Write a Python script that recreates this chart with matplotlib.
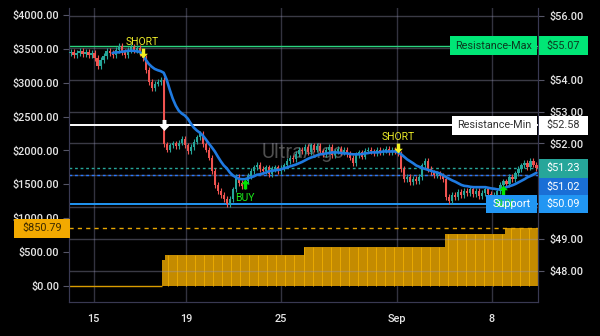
import numpy as np
import matplotlib
matplotlib.use("Agg")
import matplotlib.pyplot as plt
import matplotlib.transforms as mtransforms
from matplotlib.patches import Rectangle
from matplotlib.path import Path

plt.rcParams['font.family'] = ['Roboto', 'DejaVu Sans']

# ---------------- data ----------------
closes = [
    54.88, 54.78, 54.84, 54.91, 54.81, 54.88, 54.78, 54.84, 54.69, 54.44,
    54.63, 54.75, 54.91, 54.84, 54.78, 54.94, 55.06, 54.88, 54.78, 54.94,
    55.03, 54.94, 55.00, 54.84, 54.69, 54.31, 53.94, 53.75, 53.88, 53.94,
    54.00, 51.97, 51.81, 51.94, 52.00, 51.91, 52.03, 52.13, 51.94, 51.75,
    51.88, 52.06, 52.19, 52.31, 51.97, 51.81, 51.56, 51.13, 50.69, 50.50,
    50.38, 50.25, 50.09, 50.25, 50.56, 50.94, 50.75, 50.66, 50.81, 50.97,
    51.13, 51.25, 51.34, 51.19, 51.13, 51.25, 51.03, 51.19, 51.25, 51.13,
    51.22, 51.31, 51.44, 51.56, 51.50, 51.66, 51.81, 51.75, 51.88, 51.72,
    51.94, 51.81, 51.91, 51.75, 51.66, 51.81, 51.88, 51.63, 51.75, 51.84,
    51.72, 51.81, 51.66, 51.56, 51.38, 51.63, 51.72, 51.59, 51.78, 51.81,
    51.75, 51.69, 51.81, 51.72, 51.78, 51.84, 51.72, 51.81, 51.75, 51.69,
    51.19, 50.88, 50.94, 50.78, 50.88, 50.81, 50.94, 51.31, 51.44, 51.19,
    51.09, 51.00, 51.06, 50.97, 50.88, 50.31, 50.19, 50.38, 50.31, 50.47,
    50.38, 50.50, 50.44, 50.56, 50.41, 50.50, 50.34, 50.44, 50.56, 50.41,
    50.25, 50.38, 50.50, 50.69, 50.81, 50.72, 50.94, 50.88, 51.06, 51.19,
    51.31, 51.38, 51.25, 51.44, 51.34, 51.23,
]
first_open = 54.84
wick = 0.09

ma_start = 14
ma_values = [
    54.84, 54.86, 54.86, 54.88, 54.89, 54.91, 54.91, 54.91, 54.89, 54.88,
    54.78, 54.63, 54.50, 54.41, 54.34, 54.30, 54.27, 54.22, 54.00, 53.69,
    53.41, 53.19, 53.03, 52.94, 52.88, 52.78, 52.63, 52.50, 52.41, 52.34,
    52.25, 52.13, 52.00, 51.88, 51.75, 51.59, 51.44, 51.31, 51.22, 51.09,
    51.00, 50.94, 50.89, 50.88, 50.88, 50.91, 50.94, 50.97, 51.02, 51.03,
    51.06, 51.09, 51.13, 51.14, 51.16, 51.17, 51.19, 51.22, 51.25, 51.28,
    51.31, 51.34, 51.38, 51.42, 51.47, 51.52, 51.56, 51.59, 51.63, 51.66,
    51.67, 51.69, 51.70, 51.72, 51.72, 51.72, 51.70, 51.69, 51.69, 51.67,
    51.66, 51.66, 51.66, 51.67, 51.69, 51.70, 51.72, 51.72, 51.72, 51.73,
    51.75, 51.75, 51.75, 51.75, 51.75, 51.72, 51.66, 51.58, 51.50, 51.44,
    51.38, 51.31, 51.27, 51.23, 51.20, 51.17, 51.14, 51.11, 51.09, 51.05,
    51.00, 50.94, 50.89, 50.84, 50.80, 50.75, 50.70, 50.67, 50.66, 50.64,
    50.63, 50.63, 50.63, 50.63, 50.63, 50.61, 50.59, 50.58, 50.56, 50.56,
    50.59, 50.63, 50.66, 50.69, 50.73, 50.78, 50.83, 50.88, 50.94, 50.98,
    51.03, 51.08,
]

equity_step_idx = [31, 32, 78, 125, 145]
equity_step_val = [380.0, 460.0, 580.0, 770.0, 850.79]

resistance_max = 55.07
resistance_min = 52.58
support_level = 50.09
last_price = 51.23
ma_last = 51.02
equity_last = 850.79

short_idx = [24, 109]
short_price = [54.84, 51.86]
buy_idx = [58, 144]
buy_price = [50.73, 50.54]
exit_idx = [31]
exit_price = [52.58]

x_tick_pos = [7.75, 38.56, 69.86, 108.68, 140.15]
x_tick_labels = ["15", "19", "25", "Sep", "8"]
left_ticks = [0, 500, 1000, 1500, 2000, 2500, 3000, 3500, 4000]
right_ticks = [48, 49, 50, 51, 52, 53, 54, 55, 56]
right_hidden = [50, 51, 55]   # covered by the level labels in the reference

# ---------------- figure ----------------
W, H = 600, 336
fig = plt.figure(figsize=(W / 100, H / 100), dpi=100, facecolor="black")
ax = fig.add_axes([69 / W, (H - 302) / H, (538 - 69) / W, (302 - 8) / H])
ax.set_facecolor("black")
ax2 = ax.twinx()

N = len(closes)
idx = np.arange(N)
ax.set_xlim(-0.5, N - 0.5)
ax.set_ylim(-236, 4103)
ax2.set_ylim(47.027, 56.251)

grid_col = "#33333f"
spine_col = "#393952"
label_col = "#e6e6e6"
tick_font = dict(size=7.8, weight="medium")

# equity bars (left axis)
equity = np.zeros(N)
for i0, v in zip(equity_step_idx, equity_step_val):
    equity[i0:] = v
ax.stairs(equity, np.arange(N + 1) - 0.5, fill=True, baseline=0,
          color="#c48b00", zorder=2)
zero_x = idx[equity == 0]
ax.hlines(0, zero_x.min() - 0.5, zero_x.max() + 0.5, color="#d99c00", lw=1, zorder=2)
sep = np.arange(equity_step_idx[1] + 0.5, N - 0.5, 3)
ax.vlines(sep, 0, equity[(sep + 0.5).astype(int)], color="#eaa900", lw=0.7, zorder=2.1)
ax.axhline(equity_last, color="#e8a600", lw=1, ls=(0, (3, 3)), zorder=2.2)

# grids
ax.set_xticks(x_tick_pos)
ax.set_xticklabels(x_tick_labels, fontdict=tick_font)
ax.xaxis.grid(True, color=grid_col, lw=1, alpha=1.0)
ax2.set_yticks(right_ticks)
ax2.set_yticklabels(["" if v in right_hidden else f"${v:.2f}" for v in right_ticks],
                    fontdict=tick_font)
ax2.yaxis.grid(True, color="#9a9ab8", alpha=0.38, lw=1)
ax.set_yticks(left_ticks)
ax.set_yticklabels([f"${v:.2f}" for v in left_ticks], fontdict=tick_font)

# level lines
ax2.axhline(resistance_max, color="#2bd47f", lw=1, zorder=2)
ax2.axhline(resistance_min, color="white", lw=1.4, zorder=2)
ax2.axhline(support_level, color="#2196f3", lw=1.4, zorder=2)
ax2.axhline(last_price, color="#26a69a", lw=1, ls=(0, (2, 2)), zorder=2)
ax2.axhline(ma_last, color="#2979ff", lw=1, ls=(0, (2, 2)), zorder=2)

# watermark
ax2.text(0.5, 0.51, "UltraAlgo", transform=ax2.transAxes, fontsize=14.5,
         color="#6a6a6a", alpha=0.75, ha="center", va="center", zorder=1)

# candles
c = np.array(closes)
o = np.concatenate([[first_open], c[:-1]])
col = np.where(c >= o, "#26a69a", "#ef5350")
hi = np.maximum(o, c) + wick
lo = np.minimum(o, c) - wick
ax2.vlines(idx, lo, hi, colors=col, lw=0.8, zorder=3)
ax2.bar(idx, np.maximum(np.abs(c - o), 0.03), bottom=np.minimum(o, c),
        width=0.72, color=col, lw=0, zorder=3)

# moving average
ax2.plot(np.arange(ma_start, ma_start + len(ma_values)), ma_values,
         color="#1f7ae0", lw=1.9, zorder=4, solid_capstyle="round")

# signal arrows
up_v = [(0, 1), (0.9, 0.05), (0.35, 0.05), (0.35, -1), (-0.35, -1),
        (-0.35, 0.05), (-0.9, 0.05), (0, 1)]
codes = [Path.MOVETO] + [Path.LINETO] * (len(up_v) - 2) + [Path.CLOSEPOLY]
up_path = Path(up_v, codes)
down_path = Path([(x, -y) for x, y in up_v], codes)

ax2.plot(short_idx, short_price, ls="none", marker=down_path, ms=7,
         color="#f0f020", mew=0, zorder=6)
for xi, yi in zip(short_idx, short_price):
    ax2.annotate("SHORT", (xi, yi), xytext=(0, 8), textcoords="offset points",
                 ha="center", va="center", color="#ecec28", fontsize=7.5, zorder=6)
ax2.plot(buy_idx, buy_price, ls="none", marker=up_path, ms=7,
         color="#00e600", mew=0, zorder=6)
for xi, yi in zip(buy_idx, buy_price):
    ax2.annotate("BUY", (xi, yi), xytext=(0, -10), textcoords="offset points",
                 ha="center", va="center", color="#19e619", fontsize=7.5, zorder=6.2)
ax2.plot(exit_idx, exit_price, ls="none", marker=down_path, ms=8,
         color="white", mew=0, zorder=6)

# spines & ticks
for a in (ax, ax2):
    a.spines["top"].set_visible(False)
    for s in ("left", "right", "bottom"):
        a.spines[s].set_color(spine_col)
ax.tick_params(axis="x", length=0, pad=9, labelcolor=label_col)
ax.tick_params(axis="y", length=4, color="#555566", labelcolor=label_col, pad=3)
ax2.tick_params(axis="y", length=4, color="#555566", labelcolor=label_col, pad=4)

# label boxes (pixel coordinates, origin bottom-left)
px = mtransforms.Affine2D().scale(1 / W, 1 / H) + fig.transFigure


def ypx(axis, v):
    d = axis.transData.transform((0, v))
    return fig.transFigure.inverted().transform(d)[1] * H


def box(x0, x1, yc, h, face, text, tcol, zb=8, zt=8.5):
    ax2.add_patch(Rectangle((x0, yc - h / 2), x1 - x0, h, transform=px,
                            facecolor=face, edgecolor="none", clip_on=False, zorder=zb))
    ax2.text((x0 + x1) / 2, yc, text, transform=px, ha="center", va="center",
             color=tcol, fontsize=7.8, zorder=zt, clip_on=False)


y_rmax = ypx(ax2, resistance_max)
y_rmin = ypx(ax2, resistance_min)
y_last = ypx(ax2, last_price)
y_ma = min(ypx(ax2, ma_last), y_last - 18.5)
y_sup = ypx(ax2, support_level)
y_eq = ypx(ax, equity_last)

box(450, 537, y_rmax, 19, "#00e676", "Resistance-Max", "#0c3a20")
box(539, 588, y_rmax, 19, "#00e676", f"${resistance_max:.2f}", "#0c3a20")
box(452, 537, y_rmin, 19, "white", "Resistance-Min", "#333333")
box(539, 588, y_rmin, 19, "white", f"${resistance_min:.2f}", "#333333")
box(539, 588, y_last, 19, "#26a69a", f"${last_price:.2f}", "white")
box(539, 588, y_ma, 18, "#1a6fd6", f"${ma_last:.2f}", "white")
box(486, 537, y_sup, 18, "#2196f3", "Support", "white", zb=6.1, zt=6.5)
box(539, 588, y_sup, 18, "#2196f3", f"${support_level:.2f}", "white")
box(14, 70, y_eq, 19, "#f2a900", f"${equity_last:.2f}", "#3d2b00")

fig.savefig("out.png", dpi=100, facecolor="black")
